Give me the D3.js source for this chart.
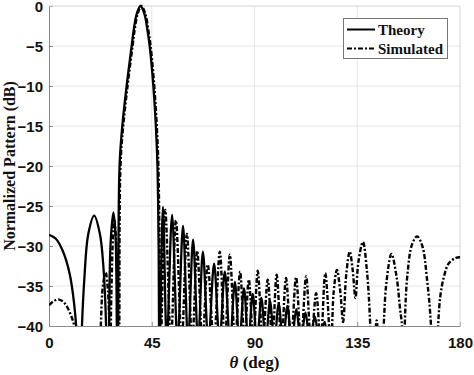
<!DOCTYPE html>
<html>
<head>
<meta charset="utf-8">
<script src="https://cdn.jsdelivr.net/npm/d3@7"></script>
<style>
  body { margin: 0; background: #fff; }
  svg { display: block; }
</style>
</head>
<body>
<svg></svg>
<script>
var xTicks = [0, 45, 90, 135, 180];
var yTicks = [-40, -35, -30, -25, -20, -15, -10, -5, 0];
var seriesNames = ["Theory", "Simulated"];

// theory curve (deg, dB), nulls are below the axis
var theoryTheta = [0, 3, 6, 9, 11, 12.3, 13.2, 14.2, 15.5, 17.2, 19.8, 22.3, 23.8, 25.0, 25.6,
  26.3, 27.0, 28.2, 29.1, 29.7, 30.0,
  30.3, 30.9, 32.1, 34.0, 36.2, 37.1, 38.4, 40.1, 41.8, 43.1, 44.1, 45.7, 46.8, 47.5, 48.0, 48.4,
  49.9, 51.6, 53.9, 56.3, 58.7, 60.9, 63.1, 65.3, 67.4, 69.8, 72.3, 74.7, 77.0, 79.3,
  81.4, 83.4, 85.4, 87.3, 89.2, 91.1, 93.0, 94.9, 96.8, 98.7, 100.6, 102.5, 104.4, 106.3,
  108.3, 110.3, 112.3, 114.3, 116.4, 118.5, 120.7, 122.9];
var theoryDb = [-28.6, -29.1, -30.6, -33.4, -37.2, -42, -60, -42, -34, -28.5, -26.2, -28.5, -32.5, -40, -60,
  -40, -29.5, -25.8, -28.5, -40, -60,
  -40, -20, -15, -10, -5, -3, -1, 0, -1, -3, -5, -10, -15, -20, -30, -44,
  -25.1, -42, -26.1, -42, -27.5, -42, -29.2, -42, -30.7, -42, -32.2, -42, -33.2, -42,
  -34.5, -42, -35.3, -42, -36.0, -42, -36.5, -42, -36.9, -42, -37.2, -42, -37.5, -42,
  -37.9, -42, -38.3, -42, -38.8, -42, -39.5, -45];

// simulated curve (deg, dB)
var simTheta = [0, 2, 4.5, 7, 9.5, 11.4, 12.5, 21.8, 22.7, 23.6, 24.8, 25.8, 26.4, 26.8,
  27.3, 28.5, 29.5, 30.1, 30.5,
  30.8, 31.3, 32.5, 34.4, 36.6, 37.5, 38.8, 40.45, 42.2, 43.5, 44.5, 46.1, 47.2, 47.9, 48.4, 48.8,
  50.9, 53.4, 55.6, 58.1, 60.4, 62.7, 64.9, 67.2, 69.5, 72.2, 74.8, 77.0, 79.2, 81.5,
  83.7, 85.6, 87.5, 89.5, 91.4, 93.6, 95.8, 97.8, 99.7, 101.8, 103.8, 106.0, 108.2, 110.4,
  112.6, 114.8, 117.0, 119.0, 121.0, 123.5, 124.6, 126.1, 127.5, 128.8, 130.2, 131.7, 133.0,
  134.2, 135.5, 137.5, 139.2, 140.7, 141.5, 143.5, 145.5, 146.6, 147.8, 150.0, 152.2, 153.8,
  154.6, 155.2, 155.8, 157.0, 159.0, 161.2, 163.5, 165.5, 167.3, 168.8, 170.4, 171.5, 173.0,
  175.0, 178.0, 180];
var simDb = [-37.4, -36.9, -36.7, -37.2, -38.6, -40.5, -55, -55, -40, -35, -33.3, -35.5, -40, -45,
  -36, -26.6, -30, -40, -55,
  -40, -20, -15, -10, -5, -3, -1, 0, -1, -3, -5, -10, -15, -20, -30, -44,
  -25.5, -42, -26.8, -42, -28.5, -42, -30.6, -42, -32.3, -42, -30.7, -42, -31.1, -42,
  -33.2, -42, -34.2, -42, -33.1, -42, -34.2, -42, -33.6, -42, -34.0, -42, -33.9, -42,
  -33.8, -42, -35.9, -42, -33.4, -43, -36, -33.0, -35.5, -39.5, -33.5, -30.7, -33,
  -36.5, -32, -29.5, -33, -40, -50, -39.3, -50, -40, -34.5, -31.0, -33.8, -38,
  -40, -55, -40, -33.5, -29.8, -28.8, -30, -34, -40, -55, -40, -36, -33.8,
  -32.2, -31.5, -31.4];

var width = 474, height = 375;
var plotLeft = 49, plotRight = 460, plotTop = 6, plotBottom = 326;

var svg = d3.select("svg")
  .attr("width", width)
  .attr("height", height);

var x = d3.scaleLinear().domain([0, 180]).range([plotLeft, plotRight]);
var y = d3.scaleLinear().domain([-40, 0]).range([plotBottom, plotTop]);

// grid
svg.append("g").selectAll("line")
  .data(xTicks.slice(1))
  .enter().append("line")
    .attr("x1", function(d) { return x(d); })
    .attr("x2", function(d) { return x(d); })
    .attr("y1", plotTop).attr("y2", plotBottom)
    .attr("stroke", "#e6e6e6").attr("stroke-width", 1);
svg.append("g").selectAll("line")
  .data(yTicks.slice(1))
  .enter().append("line")
    .attr("x1", plotLeft).attr("x2", plotRight)
    .attr("y1", function(d) { return y(d); })
    .attr("y2", function(d) { return y(d); })
    .attr("stroke", "#e6e6e6").attr("stroke-width", 1);

// axes (ticks pointing inside like matlab)
var xAxis = svg.append("g")
  .attr("transform", "translate(0," + plotBottom + ")")
  .call(d3.axisBottom(x).tickValues(xTicks).tickSizeInner(-4).tickSizeOuter(0).tickPadding(10));
var yAxis = svg.append("g")
  .attr("transform", "translate(" + plotLeft + ",0)")
  .call(d3.axisLeft(y).tickValues(yTicks).tickSizeInner(-4).tickSizeOuter(0).tickPadding(10));
[xAxis, yAxis].forEach(function(a) {
  a.select(".domain").attr("stroke", "#8a8a8a").attr("stroke-width", 1);
  a.selectAll(".tick line").attr("stroke", "#8a8a8a");
  a.selectAll("text")
    .attr("fill", "#111")
    .style("font-family", "'Liberation Sans', Arial, sans-serif")
    .style("font-weight", "bold")
    .style("font-size", "15px");
});
xAxis.selectAll("text").attr("dy", "0.71em").attr("y", 11);
yAxis.selectAll("text").attr("x", -6).attr("dy", "0.36em");

// light frame on top / right
svg.append("line").attr("x1", plotLeft).attr("x2", plotRight).attr("y1", plotTop).attr("y2", plotTop)
  .attr("stroke", "#e0e0e0");
svg.append("line").attr("x1", plotRight).attr("x2", plotRight).attr("y1", plotTop).attr("y2", plotBottom)
  .attr("stroke", "#e0e0e0");

svg.append("clipPath").attr("id", "plotclip")
  .append("rect")
    .attr("x", plotLeft).attr("y", plotTop - 3)
    .attr("width", plotRight - plotLeft).attr("height", plotBottom - plotTop + 3);

var line = d3.line()
  .x(function(d) { return x(d[0]); })
  .y(function(d) { return y(d[1]); })
  .curve(d3.curveCatmullRom.alpha(0.5));

var theory = d3.zip(theoryTheta, theoryDb);
var sim = d3.zip(simTheta, simDb);

var plot = svg.append("g").attr("clip-path", "url(#plotclip)");
plot.append("path")
  .datum(theory)
  .attr("d", line)
  .attr("fill", "none")
  .attr("stroke", "#000")
  .attr("stroke-width", 2.3);
plot.append("path")
  .datum(sim)
  .attr("d", line)
  .attr("fill", "none")
  .attr("stroke", "#000")
  .attr("stroke-width", 2.4)
  .attr("stroke-dasharray", "5,2,2,2");

// axis titles
var xt = svg.append("text")
  .attr("x", (plotLeft + plotRight) / 2)
  .attr("y", 368)
  .attr("text-anchor", "middle")
  .style("font-family", "'Liberation Serif', 'Times New Roman', serif")
  .style("font-weight", "bold")
  .style("font-size", "17px")
  .attr("fill", "#111");
xt.append("tspan").style("font-style", "italic").text("θ");
xt.append("tspan").text(" (deg)");

svg.append("text")
  .attr("transform", "translate(15," + (plotTop + plotBottom) / 2 + ") rotate(-90)")
  .attr("text-anchor", "middle")
  .style("font-family", "'Liberation Serif', 'Times New Roman', serif")
  .style("font-weight", "bold")
  .style("font-size", "16px")
  .attr("fill", "#111")
  .text("Normalized Pattern (dB)");

// legend
var legend = svg.append("g");
legend.append("rect")
  .attr("x", 343.5).attr("y", 18.5)
  .attr("width", 104).attr("height", 40)
  .attr("fill", "#fff")
  .attr("stroke", "#777")
  .attr("stroke-width", 1);
var items = legend.selectAll("g.item")
  .data(seriesNames)
  .enter().append("g")
    .attr("class", "item")
    .attr("transform", function(d, i) { return "translate(0," + (29.5 + i * 19) + ")"; });
items.append("line")
  .attr("x1", 347).attr("x2", 375)
  .attr("stroke", "#000")
  .attr("stroke-width", 2)
  .attr("stroke-dasharray", function(d, i) { return i == 0 ? null : "5,2,2,2"; });
items.append("text")
  .attr("x", 378)
  .attr("y", 5)
  .style("font-family", "'Liberation Serif', 'Times New Roman', serif")
  .style("font-weight", "bold")
  .style("font-size", "15px")
  .attr("fill", "#111")
  .text(function(d) { return d; });
</script>
</body>
</html>
